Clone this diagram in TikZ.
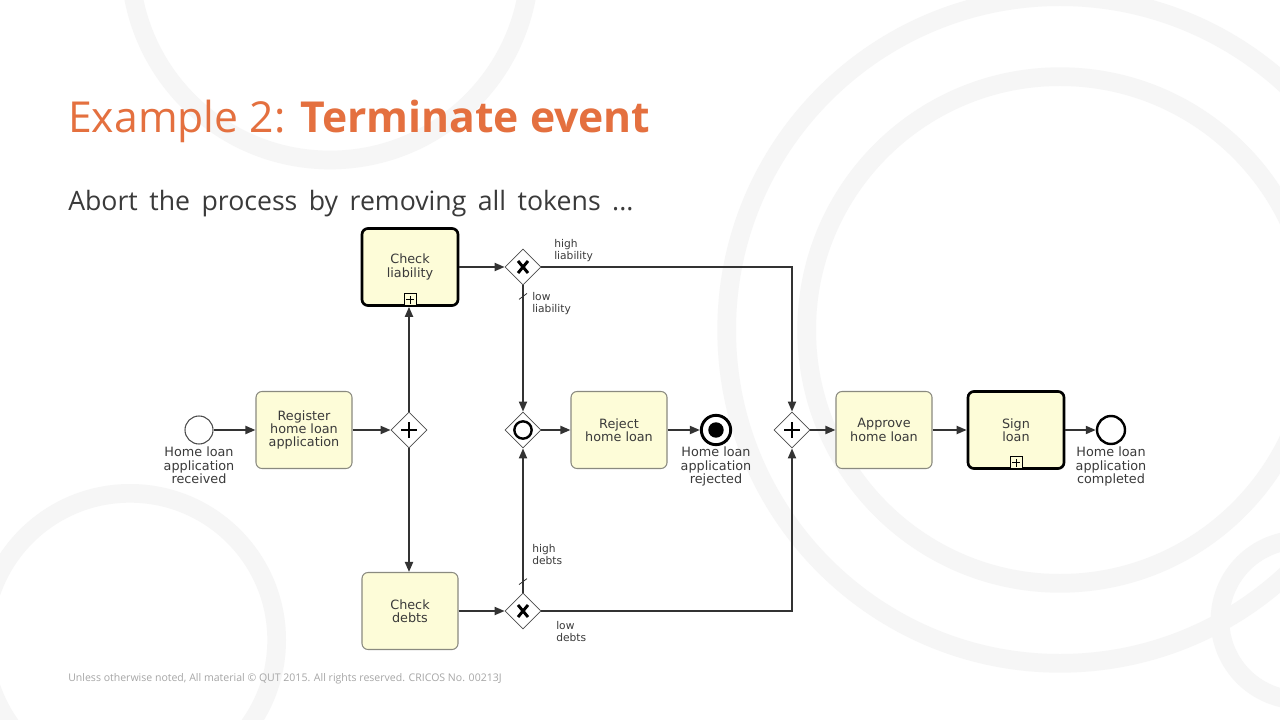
\documentclass[tikz,border=0pt]{standalone}
\usepackage{fontspec}
\setmainfont{DejaVu Sans}
\newfontfamily\opensans{Open Sans}
\usetikzlibrary{shapes.geometric,arrows.meta,calc}
\definecolor{qorange}{HTML}{E4703F}
\definecolor{taskfill}{HTML}{FDFCD8}
\definecolor{taskborder}{HTML}{8A8A80}
\definecolor{textgray}{HTML}{3A3A3A}
\definecolor{ringgray}{HTML}{F6F6F6}
\newcommand\tasklabel{\fontsize{9.6}{10}\selectfont}
\newcommand\edgelabel{\fontsize{8}{9}\selectfont}
\newcommand\subtitlefont{\opensans\fontsize{20}{24}\selectfont\spaceskip=8.6pt plus 1pt minus 1pt\relax}
\tikzset{
  task/.style={draw=taskborder, fill=taskfill, rounded corners=4.5pt, minimum width=72pt, minimum height=57.75pt, align=center, font=\tasklabel, text=textgray, line width=0.8pt, inner sep=1pt},
  calltask/.style={task, draw=black, line width=2pt},
  gw/.style={diamond, draw=black!70, fill=white, minimum width=27pt, minimum height=27pt, inner sep=0pt, line width=0.6pt},
  evt/.style={circle, draw=black!70, fill=white, minimum size=21pt, inner sep=0pt, line width=0.8pt},
  flow/.style={draw=black!80, line width=1.4pt, -{Triangle[length=7.5pt,width=6pt]}},
  elabel/.style={font=\edgelabel, align=left, anchor=north west, inner sep=0pt, text=textgray},
  evlabel/.style={font=\tasklabel, align=center, anchor=north, inner sep=0pt, text=textgray},
  gsym/.style={line width=2.2pt, black},
  ring/.style={draw=ringgray, line width=14pt},
}
\begin{document}
\begin{tikzpicture}[x=0.75pt,y=-0.75pt]
\useasboundingbox[fill=white] (0,0) rectangle (1280,720);
% faint background rings
\begin{scope}
\clip (0,0) rectangle (1280,720);
\draw[ring] (1060,330) circle[radius=190pt];
\draw[ring] (1060,330) circle[radius=250pt];
\draw[ring] (330,-40) circle[radius=150pt];
\draw[ring] (130,640) circle[radius=110pt];
\draw[ring] (1300,620) circle[radius=60pt];
\end{scope}
% title
\node[anchor=base west, inner sep=0pt, font=\opensans\fontsize{32}{40}\selectfont, text=qorange] (title) at (68,133) {Example 2: \textbf{Terminate event}};
\node[anchor=base west, inner sep=0pt, font=\subtitlefont, text=textgray] (sub) at (68,211) {Abort the process by removing all tokens ...};
\node[anchor=base west, inner sep=0pt, font=\opensans\fontsize{7.9}{9}\selectfont, text=black!35] (foot) at (68,681) {Unless otherwise noted, All material \textcopyright{} QUT 2015. All rights reserved. CRICOS No. 00213J};
% nodes
\node[evt] (start) at (199,430) {};
\node[evlabel] (startl) at (199,447) {Home loan\\application\\received};
\node[task] (reg) at (304,430) {Register\\home loan\\application};
\node[gw] (pg1) at (409,430) {};
\node[calltask] (cl) at (410,267) {Check\\liability};
\node[task] (cd) at (410,611) {Check\\debts};
\node[gw] (x1) at (523,267) {};
\node[gw] (x2) at (523,611) {};
\node[gw] (or) at (523,430) {};
\node[task] (rej) at (619,430) {Reject\\home loan};
\node[evt, draw=black, line width=2.2pt, minimum size=22pt] (term) at (716,430) {};
\node[evlabel] (terml) at (716,447) {Home loan\\application\\rejected};
\node[gw] (pg2) at (792,430) {};
\node[task] (app) at (884,430) {Approve\\home loan};
\node[calltask] (sign) at (1016,430) {Sign\\loan};
\node[evt, draw=black, line width=1.8pt] (end) at (1111,430) {};
\node[evlabel] (endl) at (1111,447) {Home loan\\application\\completed};
% gateway symbols
\foreach \g in {x1,x2}{
  \draw[gsym] ($(\g)+(-5,-6)$) -- ($(\g)+(5,6)$);
  \draw[gsym] ($(\g)+(-5,6)$) -- ($(\g)+(5,-6)$);
}
\foreach \g in {pg1,pg2}{
  \draw[gsym] ($(\g)+(-8,0)$) -- ($(\g)+(8,0)$);
  \draw[gsym] ($(\g)+(0,-8)$) -- ($(\g)+(0,8)$);
}
\draw[line width=1.8pt] (or) circle[radius=6.5pt];
\fill[black] (term) circle[radius=5.8pt];
% sub-process markers
\foreach \t in {cl,sign}{
  \draw[line width=0.6pt, fill=taskfill] ($(\t.south)+(-6,-13)$) rectangle ($(\t.south)+(6,-1)$);
  \draw[line width=0.6pt] ($(\t.south)+(-4,-7)$) -- ($(\t.south)+(4,-7)$);
  \draw[line width=0.6pt] ($(\t.south)+(0,-11)$) -- ($(\t.south)+(0,-3)$);
}
% flows
\draw[flow] (start) -- (reg);
\draw[flow] (reg) -- (pg1);
\draw[flow] (pg1.north) -- (pg1.north |- cl.south);
\draw[flow] (pg1.south) -- (pg1.south |- cd.north);
\draw[flow] (cl) -- (x1);
\draw[flow] (cd) -- (x2);
\draw[flow] (x1.east) -| (pg2.north);
\draw[flow] (x1.south) -- (or.north);
\draw[flow] (x2.north) -- (or.south);
\draw[flow] (x2.east) -| (pg2.south);
\draw[flow] (or) -- (rej);
\draw[flow] (rej) -- (term);
\draw[flow] (pg2) -- (app);
\draw[flow] (app) -- (sign);
\draw[flow] (sign) -- (end);
% default-flow markers
\draw[line width=0.6pt, black!80] ($(x1.south)+(-4,14)$) -- ($(x1.south)+(4,8)$);
\draw[line width=0.6pt, black!80] ($(x2.north)+(-4,-8)$) -- ($(x2.north)+(4,-14)$);
% edge labels
\node[elabel] (l1) at (554,239) {high\\liability};
\node[elabel] (l2) at (532,292) {low\\liability};
\node[elabel] (l3) at (532,544) {high\\debts};
\node[elabel] (l4) at (556,621) {low\\debts};
\end{tikzpicture}
\end{document}
